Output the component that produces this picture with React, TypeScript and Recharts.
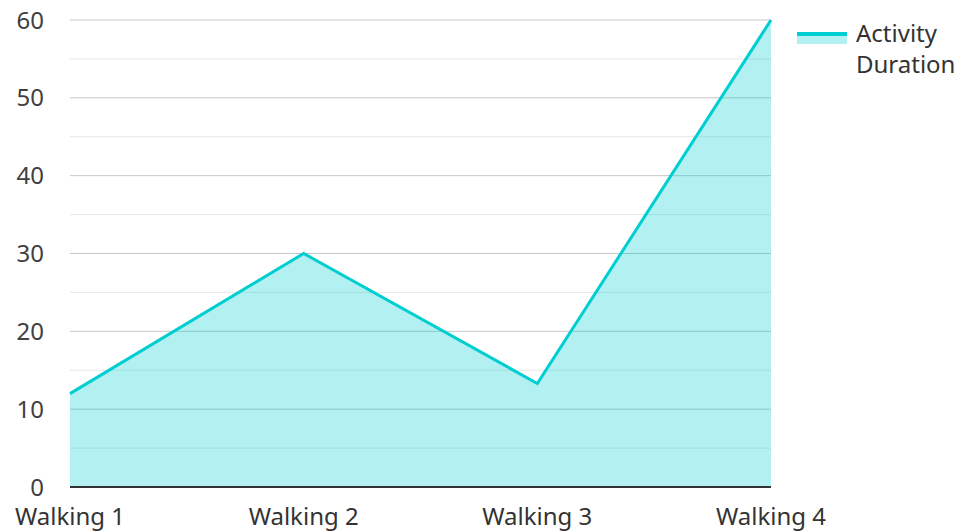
import React from "react";
import { AreaChart, Area, XAxis, YAxis, CartesianGrid, Legend } from "recharts";

const categories = ["Walking 1", "Walking 2", "Walking 3", "Walking 4"];
const durations = [12, 30, 13.3, 60];
const majorTicks = [0, 10, 20, 30, 40, 50, 60];
const minorTicks = [5, 15, 25, 35, 45, 55];
const seriesName = "Activity Duration";

const data = categories.map((c, i) => ({ name: c, duration: durations[i] }));

const LINE = "#00CED1";
const FONT = "'Noto Sans', 'Open Sans', sans-serif";

const LegendContent = () => (
  <div style={{ display: "flex", alignItems: "flex-start", fontFamily: FONT, paddingLeft: 26, paddingTop: 17 }}>
    <svg width={50} height={30} style={{ flex: "none", marginTop: 14 }}>
      <rect x={0} y={3} width={50} height={10} fill={LINE} fillOpacity={0.3} />
      <line x1={0} y1={3} x2={50} y2={3} stroke={LINE} strokeWidth={4} />
    </svg>
    <div style={{ marginLeft: 9, fontSize: 24, lineHeight: "31px", color: "#333", width: 120 }}>
      {seriesName}
    </div>
  </div>
);

export default function App() {
  return (
    <div style={{ position: "absolute", left: 0, top: 0, width: 961, height: 531, background: "#fff" }}>
      <AreaChart
        width={961}
        height={531}
        data={data}
        margin={{ top: 20, right: 20, bottom: 0, left: 0 }}
      >
        <CartesianGrid vertical={false} horizontalValues={minorTicks} stroke="#e6e6e6" strokeWidth={1} />
        <CartesianGrid vertical={false} horizontalValues={majorTicks} stroke="#c6c6c6" strokeWidth={1} />
        <XAxis
          dataKey="name"
          height={44}
          tickLine={false}
          axisLine={{ stroke: "#333", strokeWidth: 2 }}
          interval={0}
          tick={{ fill: "#333", fontSize: 24, fontFamily: FONT }}
          tickMargin={15}
        />
        <YAxis
          width={70}
          domain={[0, 60]}
          ticks={majorTicks}
          axisLine={false}
          tickLine={false}
          tickMargin={20}
          tick={{ fill: "#404040", fontSize: 24, fontFamily: FONT }}
        />
        <Legend
          layout="vertical"
          align="right"
          verticalAlign="top"
          width={170}
          wrapperStyle={{ top: 0 }}
          content={<LegendContent />}
        />
        <Area
          type="linear"
          dataKey="duration"
          name={seriesName}
          stroke={LINE}
          strokeWidth={3}
          fill={LINE}
          fillOpacity={0.3}
          dot={false}
          activeDot={false}
          isAnimationActive={false}
        />
      </AreaChart>
    </div>
  );
}
